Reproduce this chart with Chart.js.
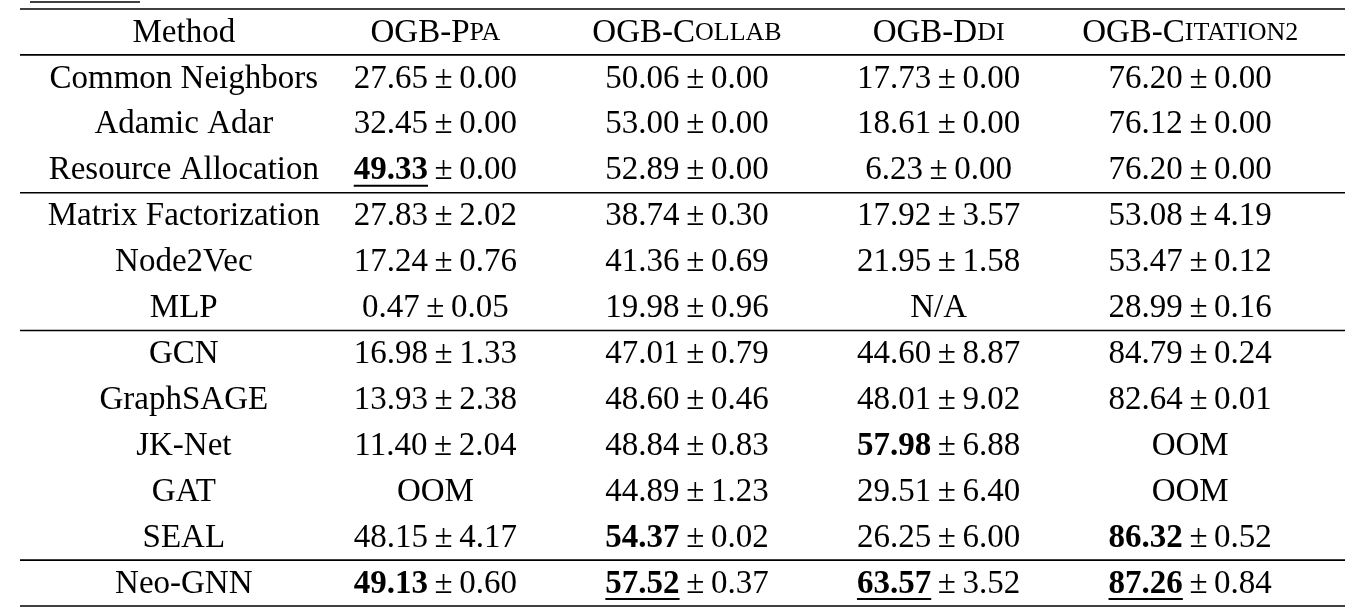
<!DOCTYPE html>
<html><head><meta charset="utf-8">
<script src="https://cdn.jsdelivr.net/npm/chart.js@4"></script>
<style>html,body{margin:0;background:#fff}#wrap{width:1352px;height:610px}</style>
</head><body><div id="wrap"><canvas id="c"></canvas></div>
<script>
const methods = ["Common Neighbors","Adamic Adar","Resource Allocation","Matrix Factorization","Node2Vec","MLP","GCN","GraphSAGE","JK-Net","GAT","SEAL","Neo-GNN"];
const headers = [["Method",""],["OGB-P","PA"],["OGB-C","OLLAB"],["OGB-D","DI"],["OGB-C","ITATION2"]];
const ppaMean  = ["27.65","32.45","49.33","27.83","17.24","0.47","16.98","13.93","11.40","OOM","48.15","49.13"];
const ppaStd   = ["0.00","0.00","0.00","2.02","0.76","0.05","1.33","2.38","2.04","","4.17","0.60"];
const colMean  = ["50.06","53.00","52.89","38.74","41.36","19.98","47.01","48.60","48.84","44.89","54.37","57.52"];
const colStd   = ["0.00","0.00","0.00","0.30","0.69","0.96","0.79","0.46","0.83","1.23","0.02","0.37"];
const ddiMean  = ["17.73","18.61","6.23","17.92","21.95","N/A","44.60","48.01","57.98","29.51","26.25","63.57"];
const ddiStd   = ["0.00","0.00","0.00","3.57","1.58","","8.87","9.02","6.88","6.40","6.00","3.52"];
const citMean  = ["76.20","76.12","76.20","53.08","53.47","28.99","84.79","82.64","OOM","OOM","86.32","87.26"];
const citStd   = ["0.00","0.00","0.00","4.19","0.12","0.16","0.24","0.01","","","0.52","0.84"];
// best = bold + underline, second = bold
const best   = [[2,"ppa"],[11,"col"],[11,"ddi"],[11,"cit"]];
const second = [[11,"ppa"],[10,"col"],[8,"ddi"],[10,"cit"]];
const groupEnds = [0,3,6,11]; // rule after these row indexes (0 = header)

const cols = [["ppa",ppaMean,ppaStd],["col",colMean,colStd],["ddi",ddiMean,ddiStd],["cit",citMean,citStd]];
const rowLabels = ["header"].concat(methods);
const colLabels = headers.map(h => h[0] + h[1]);
const has = (list, r, k) => list.some(([i, c]) => i === r && c === k);

const cells = [];
headers.forEach((h, j) => cells.push({x: colLabels[j], y: "header", segs: [{t: h[0]}, {t: h[1], small: true}]}));
methods.forEach((m, i) => {
  cells.push({x: colLabels[0], y: m, segs: [{t: m}]});
  cols.forEach(([k, mean, std], j) => {
    const b = has(best, i, k), s = has(second, i, k);
    const segs = [{t: mean[i], bold: b || s, under: b}];
    if (std[i]) segs.push({t: "\u2009\u00b1\u2009" + std[i]});
    cells.push({x: colLabels[j + 1], y: m, segs});
  });
});

const FONT = '"Liberation Serif", "DejaVu Serif", serif';
const tablePlugin = {
  id: "table",
  afterDatasetsDraw(chart) {
    const ctx = chart.ctx, ys = chart.scales.y, area = chart.chartArea;
    const meta = chart.getDatasetMeta(0);
    ctx.save();
    ctx.fillStyle = "#000"; ctx.strokeStyle = "#000"; ctx.textBaseline = "middle";
    meta.data.forEach((pt, n) => {
      const segs = cells[n].segs;
      const fontOf = s => (s.bold ? "bold " : "") + (s.small ? "26px " : "33px ") + FONT;
      let w = 0;
      segs.forEach(s => { ctx.font = fontOf(s); s.w = ctx.measureText(s.t).width; w += s.w; });
      let x = pt.x - w / 2;
      segs.forEach(s => {
        ctx.font = fontOf(s);
        ctx.fillText(s.t, x, pt.y + 1);
        if (s.under) { ctx.lineWidth = 2; ctx.beginPath(); ctx.moveTo(x, pt.y + 16); ctx.lineTo(x + s.w, pt.y + 16); ctx.stroke(); }
        x += s.w;
      });
    });
    const band = (ys.getPixelForValue(1) - ys.getPixelForValue(0));
    const rule = y => { ctx.beginPath(); ctx.moveTo(20, y); ctx.lineTo(1345, y); ctx.stroke(); };
    ctx.lineWidth = 1.6;
    rule(area.top); rule(area.bottom);
    groupEnds.forEach(i => rule(ys.getPixelForValue(i) + band / 2));
    ctx.beginPath(); ctx.moveTo(30, 2); ctx.lineTo(140, 2); ctx.stroke();
    ctx.restore();
  }
};

new Chart(document.getElementById("c"), {
  type: "scatter",
  data: { datasets: [{ data: cells.map(c => ({x: c.x, y: c.y})), pointRadius: 0 }] },
  options: {
    responsive: true, maintainAspectRatio: false, animation: false,
    layout: { padding: { left: 58, right: 36, top: 9, bottom: 4 } },
    plugins: { legend: { display: false }, tooltip: { enabled: false } },
    scales: {
      x: { type: "category", labels: colLabels, offset: true, display: false },
      y: { type: "category", labels: rowLabels, offset: true, display: false }
    }
  },
  plugins: [tablePlugin]
});
</script></body></html>
